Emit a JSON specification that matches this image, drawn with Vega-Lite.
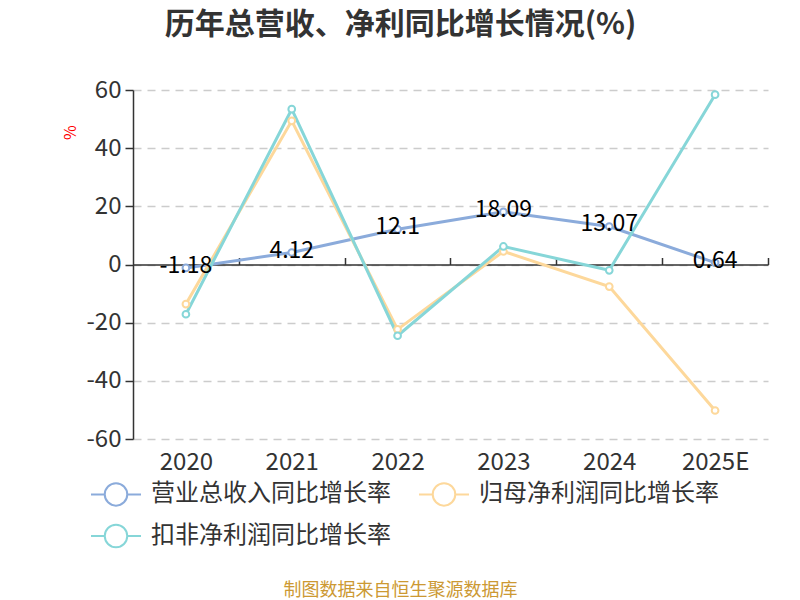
{
  "$schema": "https://vega.github.io/schema/vega-lite/v6.json",
  "width": 635,
  "height": 349,
  "autosize": {"type": "none"},
  "padding": {"left": 133, "top": 90, "right": 32, "bottom": 161},
  "background": "white",
  "config": {"font": "Noto Sans CJK SC", "view": {"stroke": null}},
  "title": {
    "text": "历年总营收、净利同比增长情况(%)",
    "fontSize": 30,
    "fontWeight": "bold",
    "color": "#333333",
    "anchor": "middle",
    "frame": "group",
    "dx": -50,
    "offset": 38
  },
  "data": {
    "values": [
      {"year": "2020", "series": "营业总收入同比增长率", "value": -1.18},
      {"year": "2021", "series": "营业总收入同比增长率", "value": 4.12},
      {"year": "2022", "series": "营业总收入同比增长率", "value": 12.1},
      {"year": "2023", "series": "营业总收入同比增长率", "value": 18.09},
      {"year": "2024", "series": "营业总收入同比增长率", "value": 13.07},
      {"year": "2025E", "series": "营业总收入同比增长率", "value": 0.64},
      {"year": "2020", "series": "归母净利润同比增长率", "value": -13.6},
      {"year": "2021", "series": "归母净利润同比增长率", "value": 49.4},
      {"year": "2022", "series": "归母净利润同比增长率", "value": -22.3},
      {"year": "2023", "series": "归母净利润同比增长率", "value": 4.5},
      {"year": "2024", "series": "归母净利润同比增长率", "value": -7.6},
      {"year": "2025E", "series": "归母净利润同比增长率", "value": -50.2},
      {"year": "2020", "series": "扣非净利润同比增长率", "value": -17.1},
      {"year": "2021", "series": "扣非净利润同比增长率", "value": 53.4},
      {"year": "2022", "series": "扣非净利润同比增长率", "value": -24.5},
      {"year": "2023", "series": "扣非净利润同比增长率", "value": 6.2},
      {"year": "2024", "series": "扣非净利润同比增长率", "value": -2.0},
      {"year": "2025E", "series": "扣非净利润同比增长率", "value": 58.4}
    ]
  },
  "resolve": {"axis": {"x": "independent"}},
  "encoding": {
    "y": {
      "field": "value",
      "type": "quantitative",
      "scale": {"domain": [-60, 60], "nice": false},
      "axis": {
        "title": "%",
        "titleColor": "#FF0000",
        "titleFontSize": 16,
        "titleFontWeight": "normal",
        "titleX": -55,
        "titleY": 42,
        "values": [-60, -40, -20, 0, 20, 40, 60],
        "labelExpr": "toString(datum.value)",
        "labelFontSize": 24,
        "labelColor": "#333333",
        "labelPadding": 4,
        "domainColor": "#333333",
        "domainWidth": 1.5,
        "tickColor": "#333333",
        "tickSize": 8,
        "tickWidth": 1.5,
        "gridColor": "#cccccc",
        "gridDash": [8, 6],
        "gridWidth": 1.5
      }
    }
  },
  "layer": [
    {
      "mark": {
        "type": "line",
        "strokeWidth": 3,
        "point": {"filled": false, "fill": "white", "size": 45, "strokeWidth": 2}
      },
      "encoding": {
        "x": {
          "field": "year",
          "type": "ordinal",
          "sort": ["2020", "2021", "2022", "2023", "2024", "2025E"],
          "scale": {"type": "point", "padding": 0.5},
          "axis": {
            "title": "制图数据来自恒生聚源数据库",
            "titleColor": "#CC9933",
            "titleFontSize": 18,
            "titleFontWeight": "normal",
            "titleX": 267,
            "titleY": 151,
            "titleBaseline": "middle",
            "domain": false,
            "ticks": false,
            "grid": false,
            "labelAngle": 0,
            "labelFontSize": 24,
            "labelColor": "#333333",
            "labelPadding": 11
          }
        },
        "color": {
          "field": "series",
          "type": "nominal",
          "scale": {
            "domain": ["营业总收入同比增长率", "归母净利润同比增长率", "扣非净利润同比增长率"],
            "range": ["#8BABDB", "#FDD89B", "#86D6D8"]
          },
          "legend": {
            "orient": "none",
            "legendX": -43,
            "legendY": 378,
            "direction": "horizontal",
            "columns": 2,
            "title": null,
            "symbolType": "M-1,0L-0.45,0M0.45,0L1,0M0.45,0A0.45,0.45,0,1,1,-0.45,0A0.45,0.45,0,1,1,0.45,0Z",
            "symbolSize": 2500,
            "symbolStrokeWidth": 2,
            "symbolFillColor": "white",
            "labelFontSize": 24,
            "labelColor": "#333333",
            "labelOffset": 9,
            "columnPadding": 24,
            "rowPadding": -7,
            "labelLimit": 400
          }
        }
      }
    },
    {
      "transform": [{"filter": "datum.series === '营业总收入同比增长率'"}],
      "mark": {"type": "text", "fontSize": 23, "color": "#000000", "baseline": "middle", "dy": -2},
      "encoding": {
        "x": {
          "field": "year",
          "type": "ordinal",
          "sort": ["2020", "2021", "2022", "2023", "2024", "2025E"],
          "scale": {"type": "point", "padding": 0.5},
          "axis": {
            "title": null,
            "labels": false,
            "domain": true,
            "domainColor": "#333333",
            "domainWidth": 1.5,
            "ticks": true,
            "tickColor": "#333333",
            "tickSize": 7,
            "tickWidth": 1.5,
            "tickOffset": 52.9,
            "offset": -174.5,
            "grid": false
          }
        },
        "text": {"field": "value", "type": "nominal"}
      }
    }
  ]
}
